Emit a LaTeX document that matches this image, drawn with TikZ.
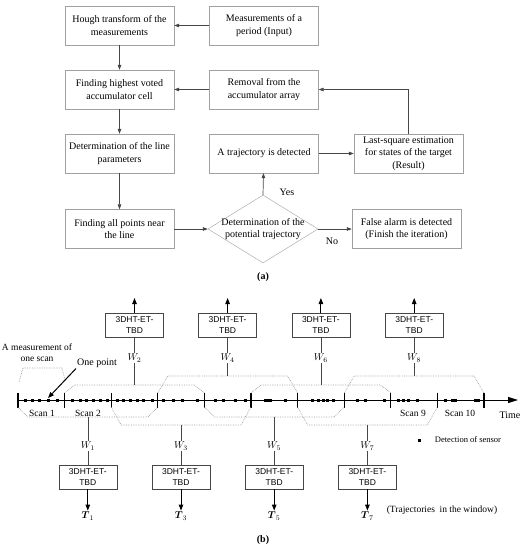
\documentclass[tikz,border=0pt]{standalone}
\usepackage{amsmath}
\usepackage{fontspec}
\setmainfont{Liberation Serif}
\newfontfamily\algfont{Liberation Sans}
\usepackage{tikz}
\usetikzlibrary{arrows.meta}
\usetikzlibrary{shapes.geometric}

\definecolor{boxgray}{RGB}{160,160,160}
\definecolor{linegray}{RGB}{70,70,70}

\tikzset{
  procbox/.style={draw=boxgray, minimum width=109pt, minimum height=39pt,
    inner sep=1pt, align=center, font=\fontsize{10}{12.5}\selectfont},
  flow/.style={draw=linegray, line width=0.7pt, -{Triangle[length=5pt,width=3.6pt]}},
  algbox/.style={draw=linegray, minimum width=58pt, minimum height=24pt,
    inner sep=0pt, align=center, font=\algfont\fontsize{8.5}{11}\selectfont},
  window/.style={boxgray, densely dotted, line width=0.7pt},
  stem/.style={linegray, line width=0.6pt},
  outarrow/.style={line width=1pt, -{Triangle[length=6pt,width=4.5pt]}},
  detdot/.style={rectangle, fill=black, inner sep=0pt, minimum size=3pt},
  lbl/.style={font=\fontsize{10}{12}\selectfont, inner sep=1pt}
}

\begin{document}
\begin{tikzpicture}[x=1pt, y=-1pt]
  \useasboundingbox (0,0) rectangle (526,550);

  \node[procbox] (hough) at (119.5,25.5) {Hough transform of the\\measurements};
  \node[procbox] (input) at (264,25.5) {Measurements of a\\period (Input)};
  \node[procbox] (findcell) at (119.5,89.5) {Finding highest voted\\accumulator cell};
  \node[procbox] (removal) at (264,89.5) {Removal from the\\accumulator array};
  \node[procbox] (lineparam) at (119.5,153.5) {Determination of the line\\parameters};
  \node[procbox] (detected) at (264,153.5) {A trajectory is detected};
  \node[procbox] (lsq) at (408.5,153.5) {Last-square estimation\\for states of the target\\(Result)};
  \node[procbox] (nearpts) at (119.5,229) {Finding all points near\\the line};
  \node[diamond, draw=boxgray, minimum width=110pt, minimum height=68pt, inner sep=0pt] (decide) at (263,229) {};
  \node[align=center, font=\fontsize{10}{12.5}\selectfont] (decidetxt) at (263,229) {Determination of the\\potential trajectory};
  \node[procbox] (falsealarm) at (406.5,229) {False alarm is detected\\(Finish the iteration)};

  \draw[flow] (input) -- (hough);
  \draw[flow] (removal) -- (findcell);
  \draw[flow] (hough) -- (findcell);
  \draw[flow] (findcell) -- (lineparam);
  \draw[flow] (lineparam) -- (nearpts);
  \draw[flow] (nearpts) -- (decide.west);
  \draw[flow] (decide.north) -- (detected);
  \draw[flow] (decide.east) -- (falsealarm);
  \draw[flow] (detected) -- (lsq);
  \draw[flow] (lsq.north) |- (removal.east);
  \node[lbl] (yes) at (287,192) {Yes};
  \node[lbl] (no) at (332,241) {No};
  \node[lbl, font=\bfseries\fontsize{10}{12}\selectfont] (capa) at (263,277) {(a)};

  % time axis
  \coordinate (tstart) at (18,400);
  \coordinate (tend) at (518,400);
  \draw[line width=1pt, -{Triangle[length=10pt,width=6pt]}] (tstart) -- (tend);
  \node[lbl] (timelbl) at (510,415) {Time};
  \foreach \i in {0,...,10}
    \draw[line width=1.2pt] ({18+46.6*\i},392.5) -- ++(0,15);
  \foreach \d in {25,32,39,48,57, 72,80,86,93,100,107, 117,123,130,137,143,152,
      163,173,182,197, 215,223,235,245, 265,267.5,270,285, 312,318,323,327,333,
      357,365,384, 398,403,408,417, 445,452,455,475,478}
    \node[detdot] at (\d,400) {};

  \node[lbl, font=\fontsize{9.5}{11}\selectfont] (scan1) at (42,413) {Scan 1};
  \node[lbl, font=\fontsize{9.5}{11}\selectfont] (scan2) at (88,413) {Scan 2};
  \node[lbl, font=\fontsize{9.5}{11}\selectfont] (scan9) at (413,413) {Scan 9};
  \node[lbl, font=\fontsize{9.5}{11}\selectfont] (scan10) at (460,413) {Scan 10};

  % sliding windows
  \foreach \xs/\xe/\lev/\ty in {18/157.8/417/407, 111.2/251/425/407, 204.4/344.2/417/407,
      297.6/437.4/425/407, 64.6/204.4/385/393, 157.8/297.6/376/393,
      251/390.8/385/393, 344.2/484/376/393}
    \draw[window] (\xs,\ty) -- ({\xs+10},\lev) -- ({\xe-10},\lev) -- (\xe,\ty);

  \foreach \k/\xm/\lev in {2/134.5/385, 4/227.6/376, 6/320.9/385, 8/414.2/376} {
    \node[algbox] (alg\k) at (\xm,325) {3DHT-ET-\\TBD};
    \node[lbl] (w\k) at (\xm,358) {$W_{\k}$};
    \coordinate (br\k) at (\xm,\lev);
    \coordinate (out\k) at (\xm,298);
    \draw[stem] (br\k) -- (w\k);
    \draw[stem] (w\k) -- (alg\k);
    \draw[outarrow] (alg\k) -- (out\k);
  }
  \foreach \k/\xm/\lev in {1/87.8/417, 3/181/425, 5/274.2/417, 7/367.4/425} {
    \node[algbox] (alg\k) at (\xm,477) {3DHT-ET-\\TBD};
    \node[lbl] (w\k) at (\xm,446) {$W_{\k}$};
    \node[lbl] (t\k) at (\xm,516) {$\boldsymbol{T}_{\k}$};
    \coordinate (br\k) at (\xm,\lev);
    \draw[stem] (br\k) -- (w\k);
    \draw[stem] (w\k) -- (alg\k);
    \draw[outarrow] (alg\k) -- (t\k);
  }

  \draw[window] (19,382) -- (23,368) -- (62,368) -- (65,380);
  \node[lbl, align=center, font=\fontsize{9.5}{11}\selectfont] (meas) at (37,353) {A measurement of\\one scan};
  \node[lbl] (onept) at (97,363) {One point};
  \coordinate (ptdot) at (48,398);
  \draw[outarrow] (onept.south west) -- (ptdot);

  \node[detdot] (legdot) at (419,440) {};
  \node[lbl, font=\fontsize{8.5}{10}\selectfont] (legend) at (468,440) {Detection of sensor};
  \node[lbl, font=\fontsize{9.5}{11}\selectfont] (trajnote) at (442,510) {(Trajectories\ \ in the window)};
  \node[lbl, font=\bfseries\fontsize{10}{12}\selectfont] (capb) at (263,540) {(b)};
\end{tikzpicture}
\end{document}
